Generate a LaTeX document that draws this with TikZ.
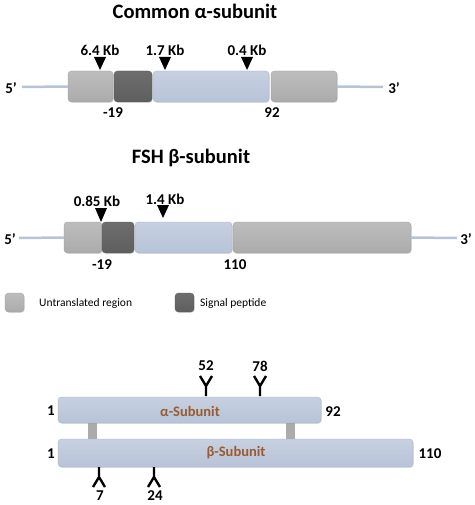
\documentclass[tikz,border=0pt]{standalone}
\usepackage{fontspec}
\setmainfont{Carlito}
\usetikzlibrary{shadows}
\definecolor{utr}{HTML}{ABABAB}
\definecolor{utrL}{HTML}{BDBDBD}
\definecolor{sig}{HTML}{5E5E5E}
\definecolor{sigL}{HTML}{6E6E6E}
\definecolor{cod}{HTML}{B7C3D7}
\definecolor{codL}{HTML}{C6D0E0}
\definecolor{brn}{HTML}{9B5A2F}
\definecolor{lnk}{HTML}{ABABAB}
\begin{document}
\begin{tikzpicture}[x=1pt,y=-1pt,
  gbox/.style={rounded corners=3.5pt, inner sep=0pt, drop shadow={opacity=0.25,shadow xshift=0.8pt,shadow yshift=-0.8pt}},
  utrbox/.style={gbox, top color=utrL, bottom color=utr, draw=utr!90!black, line width=0.3pt},
  sigbox/.style={gbox, top color=sigL, bottom color=sig, draw=sig!90!black, line width=0.3pt},
  codbox/.style={gbox, top color=codL, bottom color=cod, draw=cod!90!black, line width=0.3pt},
  gene/.style={draw=cod, line width=2.5pt},
  title/.style={font=\fontsize{20.5}{22}\selectfont\bfseries},
  lab/.style={font=\fontsize{15}{17}\selectfont\bfseries, inner sep=0pt},
  leg/.style={font=\fontsize{11.5}{13}\selectfont, inner sep=0pt, anchor=west},
  tri/.style={fill=black},
  glyc/.style={draw=black, line width=2.4pt, line join=miter},
  sub/.style={font=\fontsize{14.5}{16}\selectfont\bfseries, text=brn, inner sep=0pt}]
\useasboundingbox (0,0) rectangle (474,505);

% ---------- Common alpha-subunit gene ----------
\node[title] (t1) at (195,11) {Common α-subunit};
\coordinate (l1s) at (22,87);
\coordinate (l1e) at (383,87);
\node[utrbox, minimum width=45pt, minimum height=31pt] (a1) at (90.5,86.5) {};
\node[sigbox, minimum width=38pt, minimum height=31pt] (a2) at (133,86.5) {};
\node[codbox, minimum width=116pt, minimum height=31pt] (a3) at (211,86.5) {};
\node[utrbox, minimum width=66pt, minimum height=31pt] (a4) at (304,86.5) {};
\draw[gene] (l1s) -- (a1.west);
\draw[gene] (a4.east) -- (l1e);
\node[lab] (p5a) at (11,88) {5’};
\node[lab] (p3a) at (394,88) {3’};
\fill[tri] (94,57) -- (106,57) -- (100,70) -- cycle;
\fill[tri] (159,57) -- (171,57) -- (165,70) -- cycle;
\fill[tri] (241,57) -- (253,57) -- (247,70) -- cycle;
\node[lab] (k1) at (100,50) {6.4 Kb};
\node[lab] (k2) at (165,50) {1.7 Kb};
\node[lab] (k3) at (247,50) {0.4 Kb};
\node[lab] (m1) at (113,113) {-19};
\node[lab] (m2) at (272,113) {92};

% ---------- FSH beta-subunit gene ----------
\node[title] (t2) at (191,158) {FSH β-subunit};
\coordinate (l2s) at (19,238);
\coordinate (l2e) at (457,238);
\node[utrbox, minimum width=38pt, minimum height=31pt] (b1) at (83,237.5) {};
\node[sigbox, minimum width=32pt, minimum height=31pt] (b2) at (118,237.5) {};
\node[codbox, minimum width=97pt, minimum height=31pt] (b3) at (183.5,237.5) {};
\node[utrbox, minimum width=178pt, minimum height=31pt] (b4) at (322,237.5) {};
\draw[gene] (l2s) -- (b1.west);
\draw[gene] (b4.east) -- (l2e);
\node[lab] (p5b) at (10,239) {5’};
\node[lab] (p3b) at (466,239) {3’};
\fill[tri] (95,208) -- (107,208) -- (101,222) -- cycle;
\fill[tri] (157,205) -- (169,205) -- (163,218) -- cycle;
\node[lab] (k4) at (97,201) {0.85 Kb};
\node[lab] (k5) at (165,199) {1.4 Kb};
\node[lab] (m3) at (102,265) {-19};
\node[lab] (m4) at (235,265) {110};

% ---------- Legend ----------
\node[utrbox, minimum width=19pt, minimum height=19pt] (lg1) at (14.5,302.5) {};
\node[leg] (lt1) at (39,303) {Untranslated region};
\node[sigbox, minimum width=19pt, minimum height=19pt] (lg2) at (184.5,302.5) {};
\node[leg] (lt2) at (200,303) {Signal peptide};

% ---------- Protein subunits ----------
\fill[lnk] (88,422) rectangle (97,440);
\fill[lnk] (286,422) rectangle (295,440);
\node[codbox, minimum width=263pt, minimum height=26pt] (al) at (189.5,410) {};
\node[sub] (alt) at (190,411) {α-Subunit};
\node[codbox, minimum width=355pt, minimum height=28pt] (be) at (235.5,453) {};
\node[sub] (bet) at (236,453) {β-Subunit};
\node[lab] (a1n) at (51,411) {1};
\node[lab] (a92) at (333,412) {92};
\node[lab] (b1n) at (51,454) {1};
\node[lab] (b110) at (430,454) {110};

% glycosylation sites
\coordinate (g52) at (206,396);
\coordinate (g78) at (260,396);
\draw[glyc] (g52) -- ++(0,-10) -- ++(-6,-10) (g52) ++(0,-10) -- ++(6,-10);
\draw[glyc] (g78) -- ++(0,-10) -- ++(-6,-10) (g78) ++(0,-10) -- ++(6,-10);
\node[lab] (n52) at (206,366) {52};
\node[lab] (n78) at (260,366) {78};
\coordinate (g7) at (99,467);
\coordinate (g24) at (154,467);
\draw[glyc] (g7) -- ++(0,10) -- ++(-6,10) (g7) ++(0,10) -- ++(6,10);
\draw[glyc] (g24) -- ++(0,10) -- ++(-6,10) (g24) ++(0,10) -- ++(6,10);
\node[lab] (n7) at (100,496) {7};
\node[lab] (n24) at (155,496) {24};
\end{tikzpicture}
\end{document}
